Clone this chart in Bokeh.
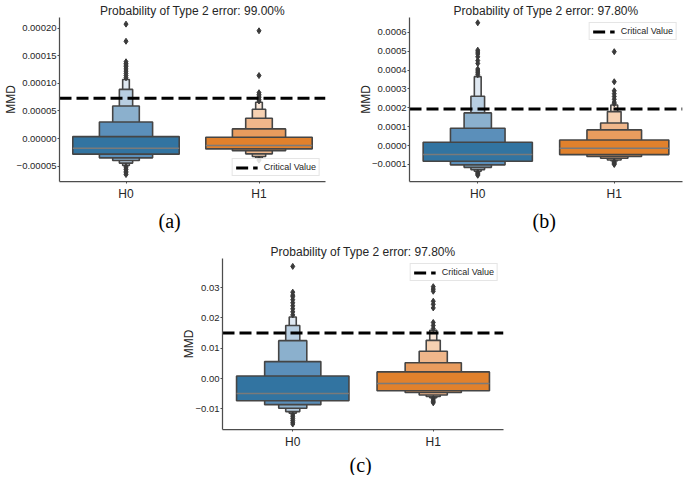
import numpy as np
from bokeh.plotting import figure
from bokeh.models import (Range1d, FixedTicker, Title, Legend, LegendItem,
                          Spacer, ColumnDataSource)
from bokeh.layouts import column, row
from bokeh.embed import file_html
from bokeh.resources import INLINE

# ---------------- data ----------------
categories = ["H0", "H1"]
critical_label = "Critical Value"
y_label = "MMD"

# panel (a)
a_title = "Probability of Type 2 error: 99.00%"
a_caption = "(a)"
a_ticks = [-0.00005, 0.0, 0.00005, 0.0001, 0.00015, 0.0002]
a_tick_labels = ["\u22120.00005", "0.00000", "0.00005", "0.00010", "0.00015", "0.00020"]
a_yrange = [-0.0000776, 0.000219]
a_critical = 0.0000728
a_h0_upper = [0.0000036, 0.0000300, 0.0000590, 0.0000890, 0.0001070]
a_h0_lower = [-0.0000281, -0.0000348, -0.0000396, -0.0000443, -0.0000486]
a_h0_median = -0.0000173
a_h0_outliers = [0.000207, 0.000176, 0.000139, 0.000136, 0.000133, 0.000130,
                 0.000126, 0.000122, 0.000118, 0.000114, 0.000110,
                 -0.000050, -0.000053, -0.000056, -0.000059, -0.000062, -0.000065]
a_h1_upper = [0.0000025, 0.0000175, 0.0000367, 0.0000530, 0.0000656]
a_h1_lower = [-0.0000186, -0.0000220, -0.0000276, -0.0000324, -0.0000350]
a_h1_median = -0.0000126
a_h1_outliers = [0.000195, 0.000114, 0.000083, 0.000080, 0.000077, 0.000074,
                 0.000071, 0.000068, -0.000037, -0.000039]

# panel (b)
b_title = "Probability of Type 2 error: 97.80%"
b_caption = "(b)"
b_ticks = [-0.0001, 0.0, 0.0001, 0.0002, 0.0003, 0.0004, 0.0005, 0.0006]
b_tick_labels = ["\u22120.0001", "0.0000", "0.0001", "0.0002", "0.0003", "0.0004", "0.0005", "0.0006"]
b_yrange = [-0.00019, 0.000678]
b_critical = 0.000194
b_h0_upper = [0.0000175, 0.0000915, 0.000173, 0.000261, 0.000365]
b_h0_lower = [-0.000083, -0.000102, -0.000115, -0.000127, -0.000136]
b_h0_median = -0.0000476
b_h0_outliers = [0.000650, 0.000505, 0.000495, 0.000485, 0.000470, 0.000450,
                 0.000435, 0.000405, 0.000395, 0.000385, 0.000375,
                 -0.000142, -0.000147, -0.000152, -0.000157]
b_h1_upper = [0.0000300, 0.0000830, 0.000120, 0.000180, 0.000215]
b_h1_lower = [-0.0000476, -0.0000580, -0.0000670, -0.0000760, -0.0000800]
b_h1_median = -0.0000140
b_h1_outliers = [0.000497, 0.000338, 0.000290, 0.000275, 0.000260, 0.000245,
                 0.000230, 0.000222, -0.000085, -0.000090, -0.000095, -0.000100]

# panel (c)
c_title = "Probability of Type 2 error: 97.80%"
c_caption = "(c)"
c_ticks = [-0.01, 0.0, 0.01, 0.02, 0.03]
c_tick_labels = ["\u22120.01", "0.00", "0.01", "0.02", "0.03"]
c_yrange = [-0.0168, 0.0396]
c_critical = 0.0150
c_h0_upper = [0.00085, 0.0056, 0.0125, 0.0175, 0.0203]
c_h0_lower = [-0.0073, -0.0086, -0.0098, -0.0109, -0.0114]
c_h0_median = -0.0049
c_h0_outliers = [0.0370, 0.0285, 0.0275, 0.0270, 0.0260, 0.0250, 0.0240,
                 0.0230, 0.0220, 0.0210,
                 -0.0120, -0.0126, -0.0132, -0.0138, -0.0144, -0.0150]
c_h1_upper = [0.0022, 0.0052, 0.0090, 0.0126, 0.0159]
c_h1_lower = [-0.0040, -0.0046, -0.0054, -0.0059, -0.0063]
c_h1_median = -0.0016
c_h1_outliers = [0.0303, 0.0295, 0.0288, 0.0255, 0.0245, 0.0233, 0.0185,
                 0.0175, 0.0165, -0.0066, -0.0071, -0.0076, -0.0080]

# ---------------- style ----------------
BLUE = ["#3274a1", "#5b8fba", "#8bb0cd", "#b8cee1", "#dfe8f1"]
ORANGE = ["#e1812c", "#e99c5e", "#f0b78b", "#f6d1b2", "#fae7d8"]
EDGE = "#454545"
TEXT = "#262626"
SANS = "Liberation Sans"
SERIF = "Liberation Serif"


def make_panel(title, caption, ticks, tick_labels, yrange, critical,
               groups, width, height, borders, cap_offset, cap_standoff,
               legend_loc):
    p = figure(width=width, height=height, output_backend="svg",
               toolbar_location=None,
               x_range=Range1d(-0.5, 1.5), y_range=Range1d(*yrange),
               min_border_left=borders[0], min_border_right=borders[1],
               min_border_top=borders[2], min_border_bottom=borders[3])
    p.outline_line_color = None
    p.grid.visible = False
    p.background_fill_color = "white"

    p.title.text = title
    p.title.align = "center"
    p.title.text_font = SANS
    p.title.text_font_size = "12px"
    p.title.text_font_style = "normal"
    p.title.text_color = TEXT
    p.title.standoff = 0

    for ax in (p.xaxis[0], p.yaxis[0]):
        ax.axis_line_color = "#4d4d4d"
        ax.axis_line_width = 1.25
        ax.major_tick_line_color = "#4d4d4d"
        ax.major_tick_out = 2
        ax.major_tick_in = 0
        ax.minor_tick_line_color = None
        ax.major_label_text_color = TEXT
        ax.major_label_text_font = SANS
        ax.major_label_standoff = 1

    p.xaxis.ticker = FixedTicker(ticks=list(range(len(categories))))
    p.xaxis.major_label_overrides = {i: c for i, c in enumerate(categories)}
    p.xaxis.major_label_text_font_size = "12px"
    p.xaxis.major_label_standoff = 3

    p.yaxis.ticker = FixedTicker(ticks=ticks)
    p.yaxis.major_label_overrides = {t: l for t, l in zip(ticks, tick_labels)}
    p.yaxis.major_label_text_font_size = "9.5px"
    p.yaxis.axis_label = y_label
    p.yaxis.axis_label_text_font = SANS
    p.yaxis.axis_label_text_font_size = "12px"
    p.yaxis.axis_label_text_font_style = "normal"
    p.yaxis.axis_label_text_color = TEXT
    p.yaxis.axis_label_standoff = -4

    for i, (upper, lower, median, outliers, pal) in enumerate(groups):
        n = len(upper)
        order = list(range(n))[::-1]  # narrowest first, widest on top
        widths = [0.8 / 2 ** k for k in order]
        src = ColumnDataSource(dict(
            left=[i - w / 2 for w in widths],
            right=[i + w / 2 for w in widths],
            bottom=[lower[k] for k in order],
            top=[upper[k] for k in order],
            color=[pal[k] for k in order]))
        p.quad(left="left", right="right", bottom="bottom", top="top",
               fill_color="color", line_color=EDGE, line_width=1.6, source=src)
        p.segment(x0=[i - 0.4], x1=[i + 0.4], y0=[median], y1=[median],
                  line_color="#7a7a7a", line_width=1.5)
        p.scatter(x=[i] * len(outliers), y=outliers, marker="diamond",
                  size=6, fill_color="#3a3a3a", line_color="#3a3a3a")

    xr = [p.x_range.start, p.x_range.end]
    cl = p.line(x=xr, y=[critical, critical], line_color="black",
                line_width=3, line_dash="12 5")
    legend = Legend(items=[LegendItem(label=critical_label, renderers=[cl])],
                    location=legend_loc)
    legend.label_text_font = SANS
    legend.label_text_font_size = "9px"
    legend.label_text_color = TEXT
    legend.label_height = 9
    legend.glyph_height = 9
    legend.glyph_width = 22
    legend.label_standoff = 6
    legend.padding = 3
    legend.margin = 5
    legend.spacing = 0
    legend.border_line_color = "#cccccc"
    legend.border_line_width = 1
    legend.background_fill_color = "white"
    legend.background_fill_alpha = 0.85
    p.add_layout(legend)

    p.add_layout(Title(text=caption, align="left", text_font=SERIF,
                       text_font_size="20px", text_font_style="normal",
                       text_color="black", offset=cap_offset,
                       standoff=cap_standoff), "below")
    return p


pa = make_panel(a_title, a_caption, a_ticks, a_tick_labels, a_yrange, a_critical,
                [(a_h0_upper, a_h0_lower, a_h0_median, a_h0_outliers, BLUE),
                 (a_h1_upper, a_h1_lower, a_h1_median, a_h1_outliers, ORANGE)],
                340, 240, (55, 15, 17, 58), 99, 8, "bottom_right")
pb = make_panel(b_title, b_caption, b_ticks, b_tick_labels, b_yrange, b_critical,
                [(b_h0_upper, b_h0_lower, b_h0_median, b_h0_outliers, BLUE),
                 (b_h1_upper, b_h1_lower, b_h1_median, b_h1_outliers, ORANGE)],
                345, 240, (69, 3, 13, 59), 123, 8, "top_right")
pc = make_panel(c_title, c_caption, c_ticks, c_tick_labels, c_yrange, c_critical,
                [(c_h0_upper, c_h0_lower, c_h0_median, c_h0_outliers, BLUE),
                 (c_h1_upper, c_h1_lower, c_h1_median, c_h1_outliers, ORANGE)],
                363, 235, (72, 10, 18, 44), 127, 0, "top_right")

layout = column(row(pa, pb), row(Spacer(width=150, height=235), pc))

open("out.html", "w").write(file_html(layout, INLINE))
